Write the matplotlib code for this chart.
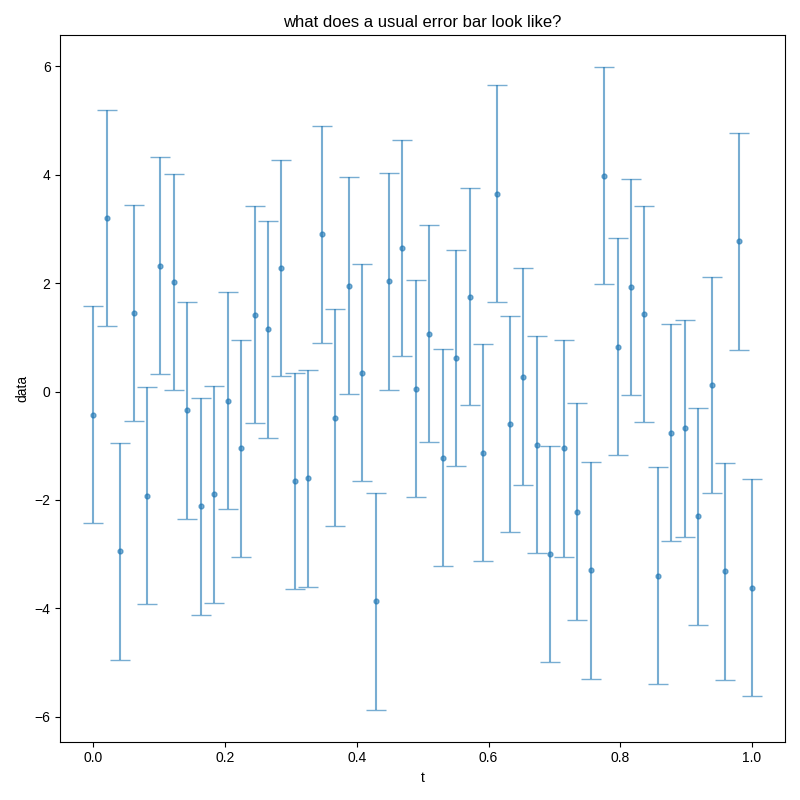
import numpy as np
import matplotlib.pyplot as plt

plt.rcParams['font.family'] = ['Liberation Sans', 'DejaVu Sans']

t = np.linspace(0, 1, 50)
data = [-0.43, 3.2, -2.95, 1.45, -1.92, 2.32, 2.02, -0.35, -2.12, -1.9,
        -0.17, -1.05, 1.42, 1.15, 2.28, -1.65, -1.6, 2.9, -0.48, 1.95,
        0.35, -3.87, 2.03, 2.65, 0.05, 1.07, -1.22, 0.62, 1.75, -1.13,
        3.65, -0.6, 0.27, -0.98, -3.0, -1.05, -2.22, -3.3, 3.98, 0.83,
        1.93, 1.43, -3.4, -0.76, -0.68, -2.3, 0.12, -3.32, 2.77, -3.62]
err = 2.0

fig, ax = plt.subplots(figsize=(8, 8), dpi=100)
ax.errorbar(t, data, yerr=err, fmt='.', color='tab:blue', alpha=0.6,
            capsize=7, markersize=7)
ax.set_title('what does a usual error bar look like?')
ax.set_xlabel('t')
ax.set_ylabel('data')
plt.tight_layout()
plt.savefig('out.png')
